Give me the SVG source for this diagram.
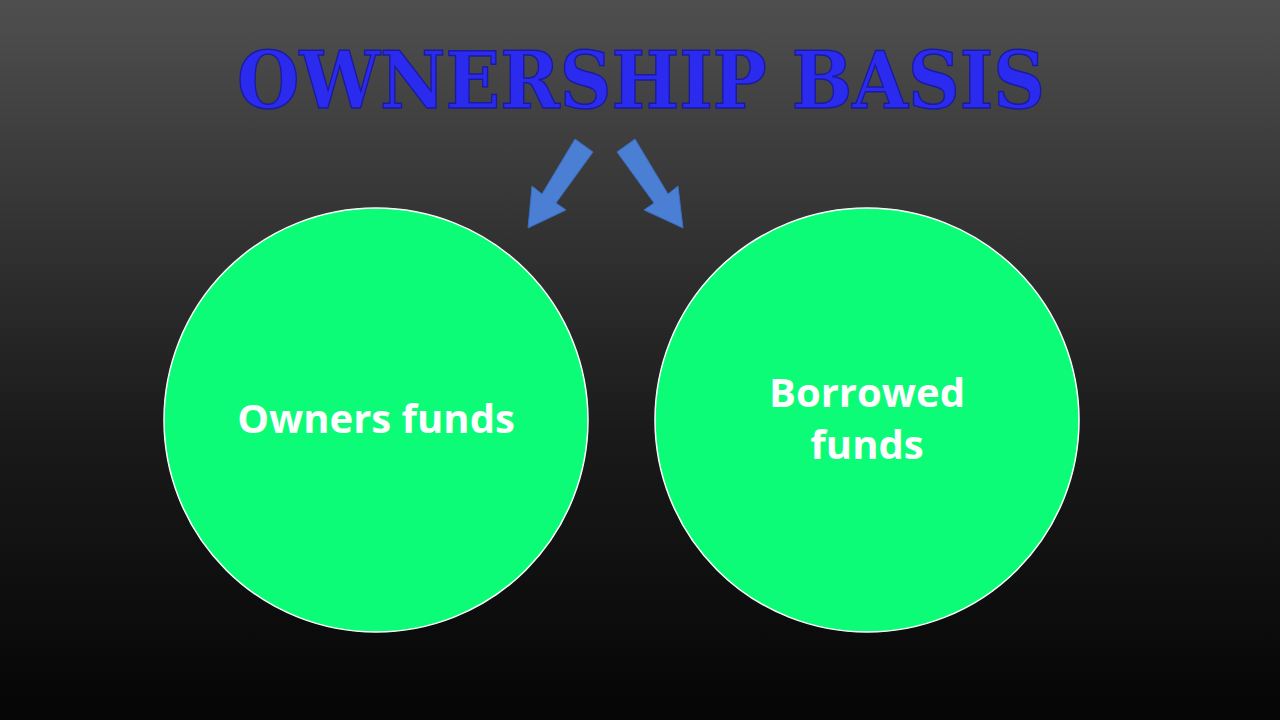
<svg xmlns="http://www.w3.org/2000/svg" width="1280" height="720" viewBox="0 0 1280 720">
<defs>
<linearGradient id="bg" x1="0" y1="0" x2="0" y2="1">
<stop offset="0" stop-color="#4f4f4f"/>
<stop offset="0.6" stop-color="#1a1a1a"/>
<stop offset="1" stop-color="#050505"/>
</linearGradient>
<style>
.c{fill:#0dfc78;stroke:#ffffff;stroke-width:1.5}
.t{font-family:"Open Sans","Noto Sans",sans-serif;font-weight:bold;font-size:40px;fill:#ffffff;text-anchor:middle}
.a{fill:#4a7fd4;stroke:#3a6cc0;stroke-width:1}
</style>
</defs>
<rect width="1280" height="720" fill="url(#bg)"/>
<text x="641" y="108" font-family="DejaVu Serif, serif" font-weight="bold" font-size="78" fill="#2b2bf0" stroke="#1a1aa0" stroke-width="1.5" text-anchor="middle" textLength="808" lengthAdjust="spacingAndGlyphs">OWNERSHIP BASIS</text>
<g id="connectors">
<polygon class="a" points="575,139 593,152 556,203 566,210 528,228 532,186 542,194"/>
<polygon class="a" points="635,139 617,152 654,203 644,210 683,228 678,186 668,194"/>
</g>
<g id="owners">
<circle class="c" cx="376" cy="420" r="212"/>
<text class="t" x="376" y="433">Owners funds</text>
</g>
<g id="borrowed">
<circle class="c" cx="867" cy="420" r="212"/>
<text class="t" x="867" y="407">Borrowed</text>
<text class="t" x="867" y="459">funds</text>
</g>
</svg>
